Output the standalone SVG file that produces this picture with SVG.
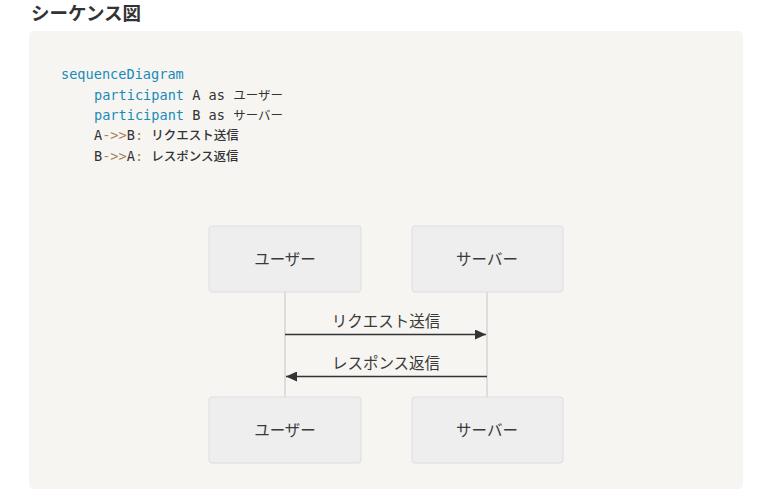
<svg xmlns="http://www.w3.org/2000/svg" width="768" height="501" viewBox="0 0 768 501">
<defs>
<style>
.title{font-family:"Noto Sans CJK JP","Noto Sans",sans-serif;font-weight:700;font-size:18.5px;fill:#333}
.code{font-family:"DejaVu Sans Mono","Liberation Mono","Noto Sans CJK JP",monospace;font-size:13.6px;fill:#333}
.jp{font-family:"Noto Sans CJK JP",sans-serif;font-size:12.5px}
.kw{fill:#1a8bb8}
.op{fill:#a67f59}
.box{fill:#eeeeee;stroke:#dedede;stroke-width:1}
.lbl{font-family:"Noto Sans CJK JP","Noto Sans",sans-serif;font-size:15.5px;fill:#3a3a3a;text-anchor:middle}
.life{stroke:#dddddd;stroke-width:2}
.msg{stroke:#333;stroke-width:1.5;fill:none}
</style>
<marker id="ah" viewBox="0 0 11 10" refX="11" refY="5" markerWidth="11" markerHeight="10" markerUnits="userSpaceOnUse" orient="auto">
<path d="M0,0 L11,5 L0,10 z" fill="#333"/>
</marker>
</defs>
<rect width="768" height="501" fill="#ffffff"/>
<text class="title" x="31" y="19.5">シーケンス図</text>
<rect x="29" y="31" width="714" height="458" rx="5" fill="#f6f5f2"/>
<g id="code">
<text class="code" x="61" y="79"><tspan class="kw">sequenceDiagram</tspan></text>
<text class="code" x="94" y="100"><tspan class="kw">participant</tspan> A as <tspan class="jp">ユーザー</tspan></text>
<text class="code" x="94" y="120"><tspan class="kw">participant</tspan> B as <tspan class="jp">サーバー</tspan></text>
<text class="code" x="94" y="140">A<tspan class="op">-&gt;&gt;</tspan>B<tspan class="op">:</tspan> <tspan class="jp" font-weight="500">リクエスト送信</tspan></text>
<text class="code" x="94" y="161">B<tspan class="op">-&gt;&gt;</tspan>A<tspan class="op">:</tspan> <tspan class="jp" font-weight="500">レスポンス返信</tspan></text>
</g>
<g id="connectors">
<line class="life" x1="285" y1="292" x2="285" y2="397"/>
<line class="life" x1="487" y1="292" x2="487" y2="397"/>
<line class="msg" x1="285" y1="334.5" x2="486" y2="334.5" marker-end="url(#ah)"/>
<text class="lbl" x="386" y="327">リクエスト送信</text>
<line class="msg" x1="487" y1="376.5" x2="286" y2="376.5" marker-end="url(#ah)"/>
<text class="lbl" x="386" y="369">レスポンス返信</text>
</g>
<g id="userTop"><rect class="box" x="209" y="226" width="152" height="66" rx="3"/><text class="lbl" x="285" y="265">ユーザー</text></g>
<g id="serverTop"><rect class="box" x="412" y="226" width="151" height="66" rx="3"/><text class="lbl" x="487" y="265">サーバー</text></g>
<g id="userBottom"><rect class="box" x="209" y="397" width="152" height="66" rx="3"/><text class="lbl" x="285" y="436">ユーザー</text></g>
<g id="serverBottom"><rect class="box" x="412" y="397" width="151" height="66" rx="3"/><text class="lbl" x="487" y="436">サーバー</text></g>
</svg>
